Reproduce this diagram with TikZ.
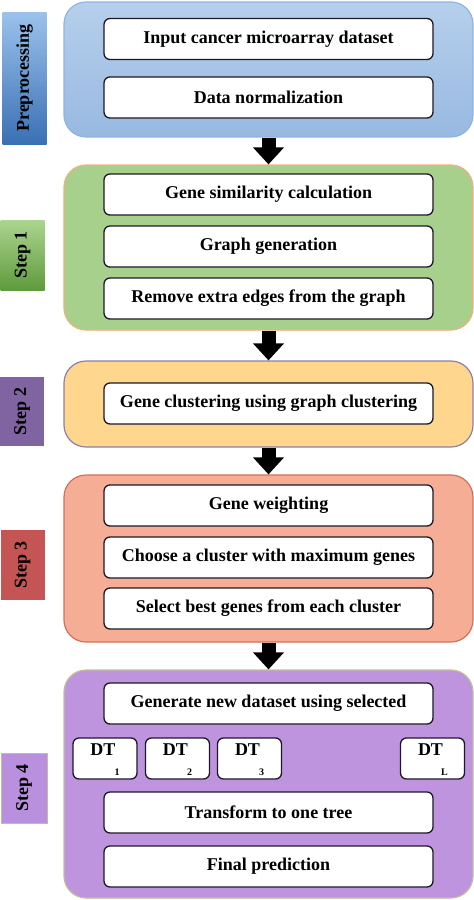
\documentclass[tikz,border=0pt]{standalone}
\usepackage{fontspec}
\setmainfont{Liberation Serif}
\usetikzlibrary{arrows.meta}
\definecolor{preFillA}{HTML}{B6CFEC}
\definecolor{preFillB}{HTML}{98B9E1}
\definecolor{preLine}{HTML}{8EB4E3}
\definecolor{preLabA}{HTML}{9CC2EC}
\definecolor{preLabB}{HTML}{3A70B4}
\definecolor{sAFill}{HTML}{A8D08D}
\definecolor{sALine}{HTML}{F2B07E}
\definecolor{sALabA}{HTML}{ABD58F}
\definecolor{sALabB}{HTML}{5F9A3D}
\definecolor{sBFill}{HTML}{FED68E}
\definecolor{sBLine}{HTML}{8E7FA6}
\definecolor{sBLab}{HTML}{8064A2}
\definecolor{sCFill}{HTML}{F5AE95}
\definecolor{sCLine}{HTML}{D46F5A}
\definecolor{sCLab}{HTML}{C55555}
\definecolor{sDFill}{HTML}{BF94DF}
\definecolor{sDLine}{HTML}{C4BD97}
\definecolor{sDLab}{HTML}{B890DD}
\definecolor{boxLine}{HTML}{1E1826}
\begin{document}
\begin{tikzpicture}[x=1pt,y=-1pt,
  container/.style={rounded corners=22pt, line width=1.2pt, minimum width=409pt, inner sep=0pt},
  inbox/.style={draw=boxLine, fill=white, rounded corners=6pt, line width=1.3pt,
    minimum width=329pt, minimum height=41pt, inner sep=0pt,
    font=\fontsize{18}{20}\selectfont\bfseries},
  dtbox/.style={draw=boxLine, fill=white, rounded corners=6pt, line width=1.3pt,
    minimum width=64pt, minimum height=41pt, inner sep=0pt},
  dttxt/.style={font=\fontsize{18}{20}\selectfont\bfseries, inner sep=0pt},
  dtsub/.style={font=\fontsize{10}{11}\selectfont\bfseries, inner sep=0pt},
  steplab/.style={rotate=90, inner sep=0pt, minimum height=44pt,
    font=\fontsize{18}{20}\selectfont\bfseries},
  blk/.style={line width=14pt, -{Triangle[width=30pt,length=17pt]}, black}
]
\useasboundingbox (0,0) rectangle (474,900);

% containers
\node[container, draw=preLine, top color=preFillA, bottom color=preFillB, minimum height=135pt] (pre) at (268.5,69.5) {};
\node[container, draw=sALine, fill=sAFill, minimum height=165pt] (s1) at (268.5,247.5) {};
\node[container, draw=sBLine, fill=sBFill, minimum height=86pt] (s2) at (268.5,404) {};
\node[container, draw=sCLine, fill=sCFill, minimum height=167pt] (s3) at (268.5,558.5) {};
\node[container, draw=sDLine, fill=sDFill, minimum height=228pt] (s4) at (268.5,784) {};

% side labels
\node[steplab, top color=preLabA, bottom color=preLabB, minimum width=132pt] (lpre) at (24.5,78) {Preprocessing};
\node[steplab, top color=sALabA, bottom color=sALabB, minimum width=70pt] (l1) at (22.5,255) {Step 1};
\node[steplab, fill=sBLab, minimum width=69pt] (l2) at (22,411.5) {Step 2};
\node[steplab, fill=sCLab, minimum width=70pt] (l3) at (22.5,565) {Step 3};
\node[steplab, fill=sDLab, draw=sDLine, line width=1pt, minimum width=70pt, minimum height=46pt] (l4) at (24,788) {Step 4};

% inner boxes
\node[inbox] (p1) at (268.5,39) {Input cancer microarray dataset};
\node[inbox] (p2) at (268.5,97.5) {Data normalization};
\node[inbox] (a1) at (268.5,194.5) {Gene similarity calculation};
\node[inbox] (a2) at (268.5,246.5) {Graph generation};
\node[inbox] (a3) at (268.5,298.5) {Remove extra edges from the graph};
\node[inbox] (b1) at (268.5,403.5) {Gene clustering using graph clustering};
\node[inbox] (c1) at (268.5,505.5) {Gene weighting};
\node[inbox] (c2) at (268.5,557.5) {Choose a cluster with maximum genes};
\node[inbox] (c3) at (268.5,608.5) {Select best genes from each cluster};
\node[inbox] (d1) at (268.5,703.5) {Generate new dataset using selected};
\node[inbox] (d2) at (268.5,812.5) {Transform to one tree};
\node[inbox] (d3) at (268.5,866.5) {Final prediction};

% DT boxes
\node[dtbox] (dt1) at (105,758.5) {};
\node[dtbox] (dt2) at (177.5,758.5) {};
\node[dtbox] (dt3) at (249.5,758.5) {};
\node[dtbox] (dtL) at (432.5,758.5) {};
\foreach \n/\s in {dt1/1,dt2/2,dt3/3,dtL/L}{
  \node[dttxt] (\n t) at ([shift={(-2,-9)}]\n.center) {DT};
  \node[dtsub] (\n s) at ([shift={(12,14)}]\n.center) {\s};
}

% arrows
\draw[blk] (pre.south) -- (s1.north);
\draw[blk] (s1.south) -- (s2.north);
\draw[blk] (s2.south) -- (s3.north);
\draw[blk] (s3.south) -- (s4.north);
\end{tikzpicture}
\end{document}
